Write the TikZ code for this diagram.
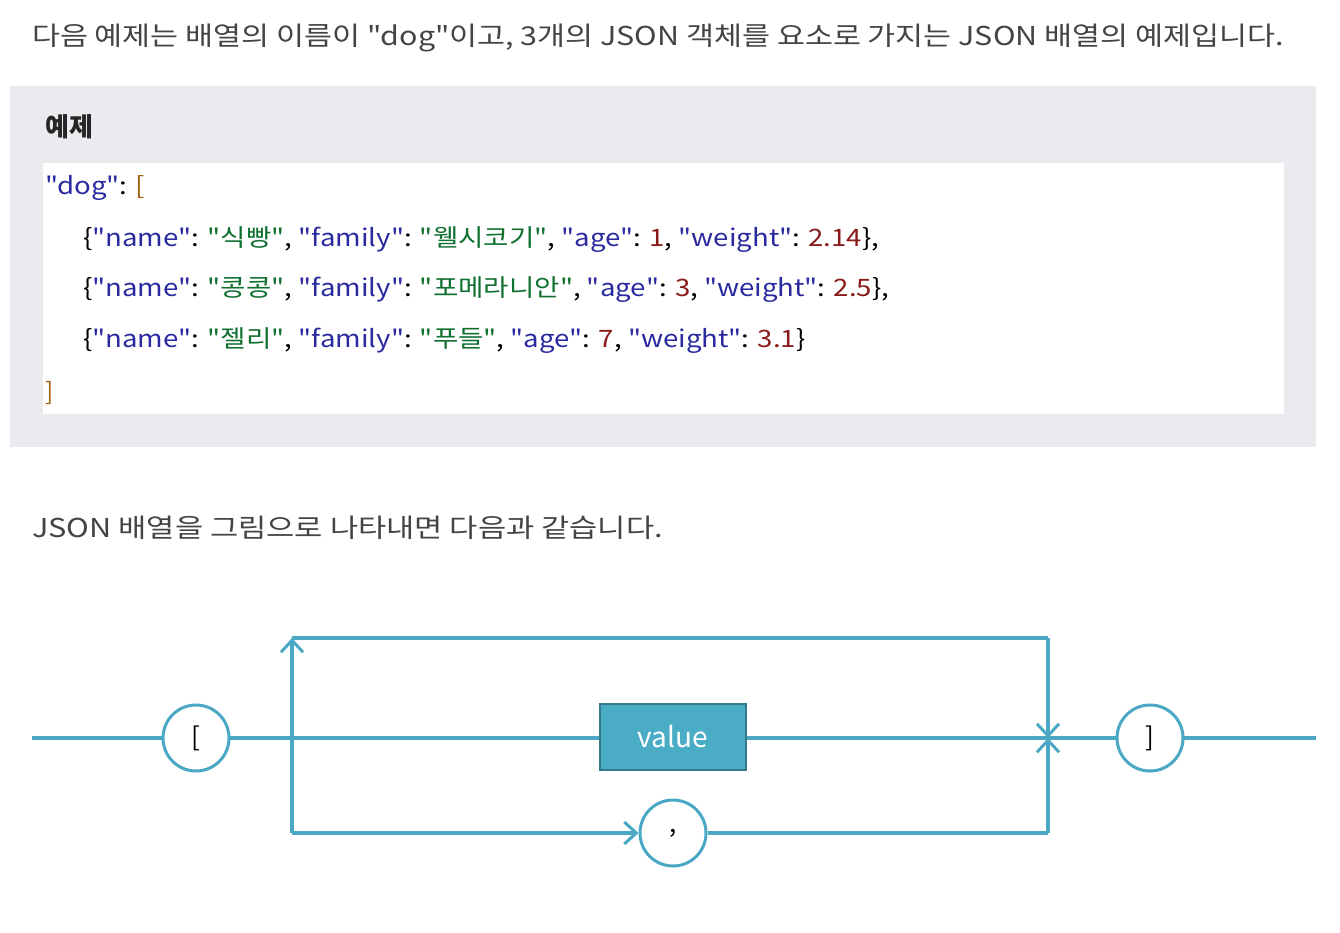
\documentclass[tikz,border=0pt]{standalone}
\usepackage{fontspec}
\setmainfont{Noto Sans CJK KR}[Ligatures=TeXOff]
\usetikzlibrary{arrows.meta}
\definecolor{ln}{HTML}{4BA8C4}
\definecolor{vbox}{HTML}{4BACC6}
\definecolor{gbg}{HTML}{EAEAEF}
\definecolor{tx}{HTML}{444444}
\definecolor{kb}{HTML}{2A2AA0}
\definecolor{sg}{HTML}{107030}
\definecolor{nr}{HTML}{8A1A1A}
\definecolor{br}{HTML}{A06010}
\newcommand{\K}[1]{\textcolor{kb}{#1}}
\newcommand{\G}[1]{\textcolor{sg}{#1}}
\newcommand{\N}[1]{\textcolor{nr}{#1}}
\newcommand{\wide}[2]{\scalebox{#1}[1]{#2}}
\tikzset{
 para/.style={anchor=west,text=tx,font=\fontsize{26}{30}\selectfont,inner sep=0},
 code/.style={anchor=west,font=\fontsize{24}{28}\selectfont,inner sep=0},
 conn/.style={draw=ln,line width=4pt},
 arr/.style={-{Straight Barb[length=12pt,width=22pt,line width=3pt]}},
 tok/.style={circle,draw=ln,line width=3pt,fill=white,minimum size=66pt,inner sep=0,font=\fontsize{26}{30}\selectfont},
}
\begin{document}
\begin{tikzpicture}[x=1pt,y=-1pt]
\useasboundingbox (0,0) rectangle (1340,933);
\fill[white] (0,0) rectangle (1340,933);
\node[para] (t1) at (32,38) {\wide{1.17}{다음 예제는 배열의 이름이 "dog"이고, 3개의 JSON 객체를 요소로 가지는 JSON 배열의 예제입니다.}};
\fill[gbg] (10,86) rectangle (1316,447);
\node[para,font=\bfseries\fontsize{26}{30}\selectfont,text=black!85] (ex) at (45,127) {예제};
\fill[white] (43,163) rectangle (1284,414);
\node[code] (c1) at (45,188) {\wide{1.15}{\K{"dog"}: \textcolor{br}{[}}};
\node[code] (c2) at (83,240) {\wide{1.15}{\{\K{"name"}: \G{"식빵"}, \K{"family"}: \G{"웰시코기"}, \K{"age"}: \N{1}, \K{"weight"}: \N{2.14}\},}};
\node[code] (c3) at (83,290) {\wide{1.15}{\{\K{"name"}: \G{"콩콩"}, \K{"family"}: \G{"포메라니안"}, \K{"age"}: \N{3}, \K{"weight"}: \N{2.5}\},}};
\node[code] (c4) at (83,341) {\wide{1.15}{\{\K{"name"}: \G{"젤리"}, \K{"family"}: \G{"푸들"}, \K{"age"}: \N{7}, \K{"weight"}: \N{3.1}\}}};
\node[code] (c5) at (45,393) {\textcolor{br}{]}};
\node[para] (t2) at (32,528) {\wide{1.18}{JSON 배열을 그림으로 나타내면 다음과 같습니다.}};
% diagram
\coordinate (L) at (32,738);
\coordinate (R) at (1316,738);
\coordinate (J) at (1048,738);
\coordinate (TL) at (292,638);
\coordinate (TR) at (1048,638);
\coordinate (BL) at (292,833);
\coordinate (BR) at (1048,833);
\draw[conn] (L) -- (R);
\draw[conn,arr] (BL) -- (TL);
\draw[conn] (TL) -- (TR);
\draw[conn,arr] (TR) -- (J);
\draw[conn,arr] (BR) -- (J);
\node[tok] (ob) at (196,738) {[};
\node[tok] (cb) at (1150,738) {]};
\node[tok] (cm) at (673,833) {,};
\draw[conn,arr] (BL) -- (cm);
\draw[conn] (cm) -- (BR);
\node[draw=vbox!70!black,line width=2pt,fill=vbox,minimum width=146pt,minimum height=66pt,text=white,font=\fontsize{28}{32}\selectfont] (val) at (673,737) {value};
\end{tikzpicture}
\end{document}
